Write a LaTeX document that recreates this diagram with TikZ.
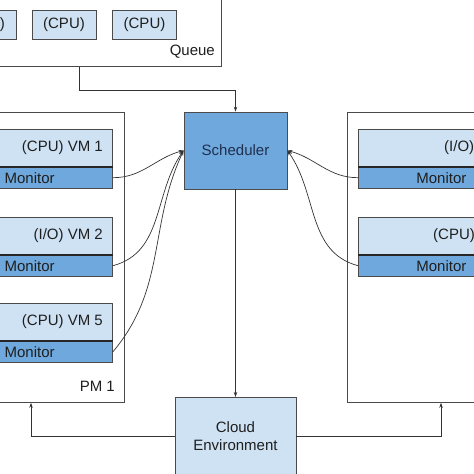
\documentclass[tikz,border=0pt]{standalone}
\usepackage{fontspec}
\setmainfont{Liberation Sans}
\usetikzlibrary{arrows.meta,calc}
\definecolor{lightblue}{HTML}{CFE2F3}
\definecolor{midblue}{HTML}{6FA8DC}
\definecolor{edgegray}{HTML}{4A4A4A}
\definecolor{navytext}{HTML}{1F2F4F}

\begin{document}
\begin{tikzpicture}[
  x=1pt, y=1pt,
  font=\fontsize{15}{18}\selectfont,
  text=black!88,
  box/.style={draw=edgegray, line width=0.8pt, inner sep=0pt},
  holder/.style={box, fill=white},
  qitem/.style={box, fill=lightblue, minimum width=64, minimum height=29},
  vmtop/.style={box, fill=lightblue, minimum width=166, minimum height=37},
  monitor/.style={box, fill=midblue, minimum width=166, minimum height=21},
  vmlabel/.style={inner sep=0pt},
  split/.style={line width=1.6pt, draw=black!85},
  arr/.style={draw=black!80, line width=0.7pt, -{Stealth[length=5pt,width=3.5pt]}},
]
\useasboundingbox (0,0) rectangle (474,474);
\clip (0,0) rectangle (474,474);

% queue of jobs
\node [holder, minimum width=260, minimum height=120, anchor=south east] (queue) at (222,407) {};
\node [vmlabel, anchor=east] (qlabel) at (215,422) {Queue};
\node [qitem] (q1) at (-16,449.5) {(CPU)};
\node [qitem] (q2) at (64,449.5) {(CPU)};
\node [qitem] (q3) at (144.5,449.5) {(CPU)};

% scheduler
\node [box, draw=black!70, fill=midblue, minimum width=103, minimum height=77, text=navytext] (sched) at (235.5,323.5) {Scheduler};

% PM 1
\node [holder, minimum width=160, minimum height=290, anchor=north east] (pm1) at (125,362) {};
\node [vmlabel, anchor=east] (pm1label) at (115,88) {PM 1};

\node [vmtop, anchor=north east] (vm1) at (113,345) {};
\node [monitor, anchor=north] (mon1) at (vm1.south) {Monitor};
\node [vmlabel, anchor=east] (lab1) at ($(vm1.east)+(-10,0)$) {(CPU) VM 1};

\node [vmtop, anchor=north east] (vm2) at (113,257) {};
\node [monitor, anchor=north] (mon2) at (vm2.south) {Monitor};
\node [vmlabel, anchor=east] (lab2) at ($(vm2.east)+(-10,0)$) {(I/O) VM 2};

\node [vmtop, anchor=north east] (vm5) at (113,171) {};
\node [monitor, anchor=north] (mon5) at (vm5.south) {Monitor};
\node [vmlabel, anchor=east] (lab5) at ($(vm5.east)+(-10,0)$) {(CPU) VM 5};

% second PM
\node [holder, minimum width=160, minimum height=290, anchor=north west] (pm2) at (347,362) {};

\node [vmtop, anchor=north west] (vm3) at (358,345) {};
\node [monitor, anchor=north] (mon3) at (vm3.south) {Monitor};
\node [vmlabel, anchor=west] (lab3) at ($(vm3.west)+(86,0)$) {(I/O)};

\node [vmtop, anchor=north west] (vm4) at (358,257) {};
\node [monitor, anchor=north] (mon4) at (vm4.south) {Monitor};
\node [vmlabel, anchor=west] (lab4) at ($(vm4.west)+(75,0)$) {(CPU)};

\foreach \m in {mon1,mon2,mon5,mon3,mon4}
  \draw [split] (\m.north west) -- (\m.north east);

% cloud environment
\node [box, fill=lightblue, minimum width=121, minimum height=78, anchor=north, align=center] (cloud) at (235.5,77) {Cloud\\Environment};

% connectors
\coordinate (qdrop) at ($(queue.south east)+(-143,0)$);
\coordinate (pm1in) at ($(pm1.south east)+(-94,0)$);
\coordinate (pm2in) at ($(pm2.south west)+(94,0)$);

\draw [arr] (qdrop) -- ++(0,-23) -| (sched.north);
\draw [arr] (sched.south) -- (cloud.north);
\draw [arr] (cloud.west) -| (pm1in);
\draw [arr] (cloud.east) -| (pm2in);

\draw [arr] (mon1.east) to[out=0, in=195] (sched.west);
\draw [arr] (mon2.east) to[out=15, in=235] (sched.west);
\draw [arr] (mon5.east) to[out=50, in=245] (sched.west);
\draw [arr] (mon3.west) to[out=180, in=-15] (sched.east);
\draw [arr] (mon4.west) to[out=165, in=-55] (sched.east);

\end{tikzpicture}
\end{document}
